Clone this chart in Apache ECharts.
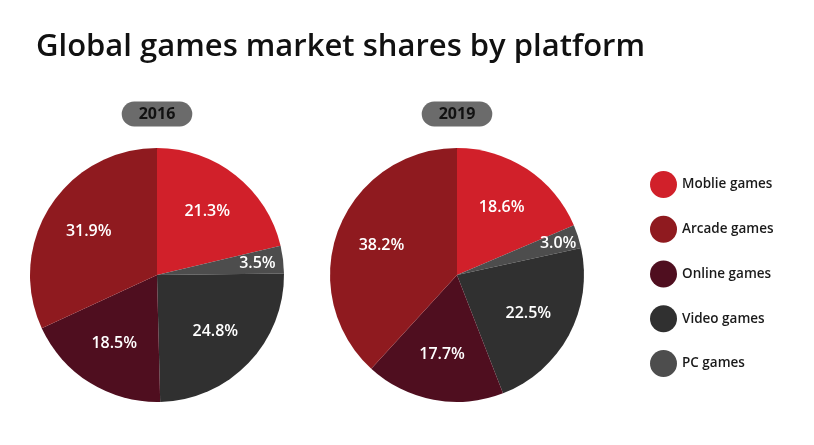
<!DOCTYPE html>
<html>
<head>
<meta charset="utf-8">
<script src="https://cdn.jsdelivr.net/npm/echarts@6/dist/echarts.min.js"></script>
<style>
  html, body { margin: 0; padding: 0; background: #fff; }
  #chart { width: 814px; height: 445px; }
</style>
</head>
<body>
<div id="chart"></div>
<script>
// platforms, in drawing order (clockwise from 12 o'clock)
const platforms = ['Moblie games', 'PC games', 'Video games', 'Online games', 'Arcade games']
const colors = ['#d1202a', '#4d4d4d', '#303030', '#4f0e1f', '#8f1a1f']
const years = ['2016', '2019']
const shares2016 = [21.3, 3.5, 24.8, 18.5, 31.9]
const shares2019 = [18.6, 3.0, 22.5, 17.7, 38.2]
const legendOrder = ['Moblie games', 'Arcade games', 'Online games', 'Video games', 'PC games']

const centers = [[157, 275], [457, 275]]
// small slices get their label pushed out a bit, like the original
const smallOffsets = [[20, -2], [24, -7]]

const chart = echarts.init(document.getElementById('chart'))

function pieData(values) {
  return platforms.map((name, i) => ({ name: name, value: values[i], itemStyle: { color: colors[i] } }))
}

function labelData(values, k) {
  return platforms.map((name, i) => {
    const d = { name: name, value: values[i] }
    if (name === 'PC games') d.label = { offset: smallOffsets[k] }
    return d
  })
}

const series = []
;[shares2016, shares2019].forEach((vals, k) => {
  series.push({
    type: 'pie',
    center: centers[k],
    radius: [0, 127],
    startAngle: 90,
    silent: true,
    label: { show: false },
    labelLine: { show: false },
    data: pieData(vals)
  })
})
// label-only rings so the texts sit further out than the default
;[shares2016, shares2019].forEach((vals, k) => {
  series.push({
    type: 'pie',
    center: centers[k],
    radius: [0, 156],
    startAngle: 90,
    silent: true,
    itemStyle: { color: 'rgba(0,0,0,0)' },
    label: {
      show: true,
      position: 'inside',
      color: '#fff',
      fontSize: 16,
      fontWeight: 600,
      fontFamily: 'Open Sans',
      formatter: p => p.value.toFixed(1) + '%'
    },
    labelLine: { show: false },
    data: labelData(vals, k)
  })
})

chart.setOption({
  animation: false,
  title: {
    text: 'Global games market shares by platform',
    left: 36,
    top: 32,
    padding: 0,
    textStyle: { fontFamily: 'Open Sans', fontSize: 31, fontWeight: 600, color: '#111' }
  },
  legend: {
    orient: 'vertical',
    left: 645,
    top: 166,
    icon: 'circle',
    itemWidth: 27,
    itemHeight: 27,
    itemGap: 17.75,
    selectedMode: false,
    data: legendOrder,
    textStyle: { fontFamily: 'Open Sans', fontSize: 13.5, fontWeight: 600, color: '#1a1a1a' }
  },
  graphic: years.map((y, k) => ({
    type: 'text',
    x: centers[k][0],
    y: 114,
    style: {
      text: y,
      align: 'center',
      verticalAlign: 'middle',
      fontFamily: 'Open Sans',
      fontSize: 16,
      fontWeight: 700,
      fill: '#111',
      backgroundColor: '#6b6b6b',
      borderRadius: 13,
      padding: [5, 17, 4, 17]
    }
  })),
  series: series
})
</script>
</body>
</html>
